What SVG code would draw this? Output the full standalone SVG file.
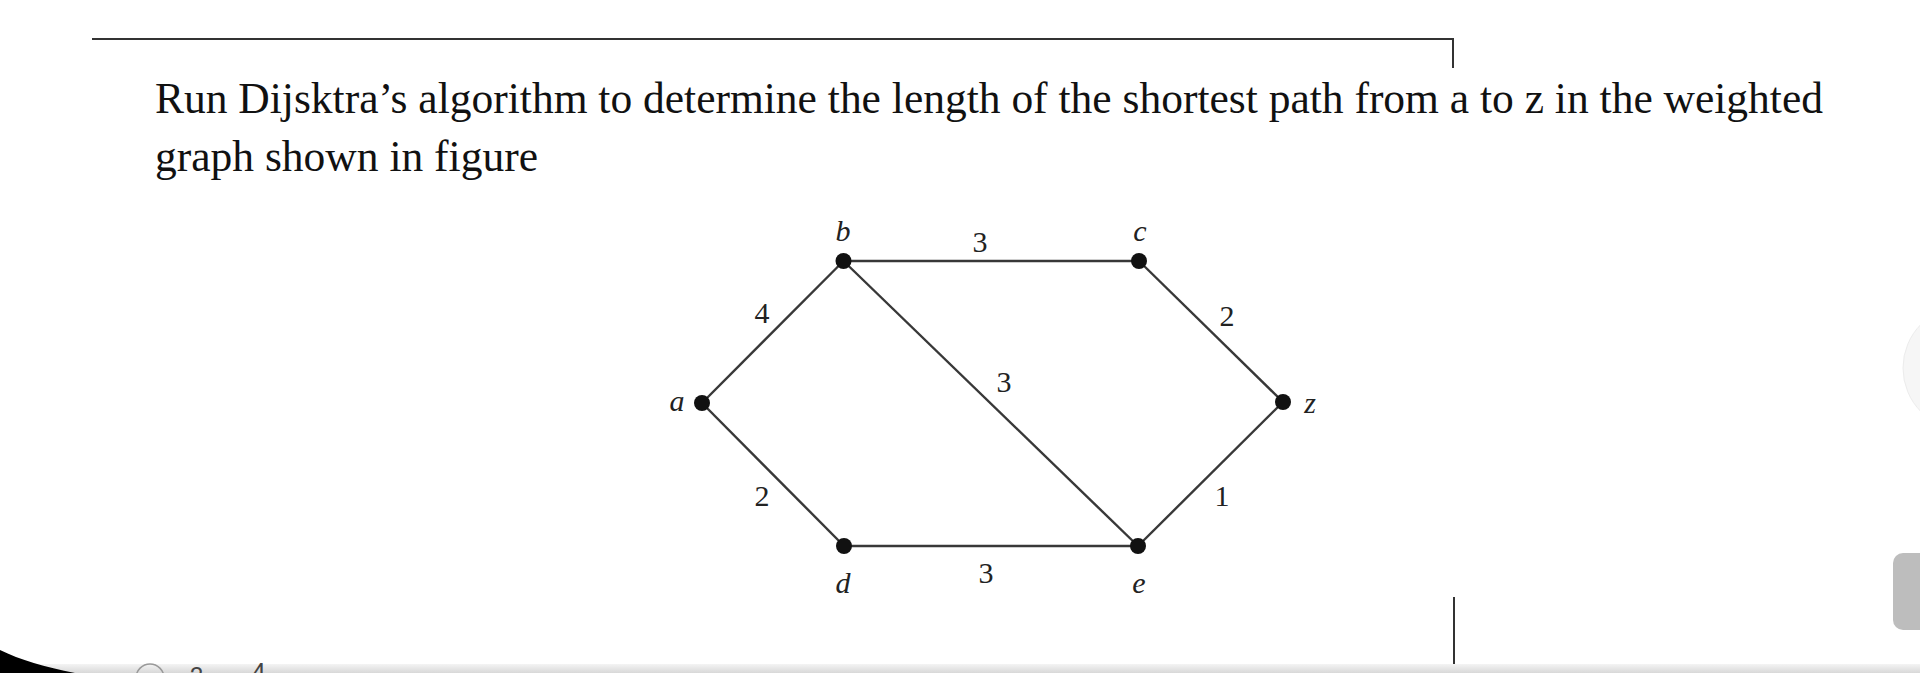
<svg xmlns="http://www.w3.org/2000/svg" width="1920" height="673" viewBox="0 0 1920 673">
  <defs>
    <linearGradient id="barGrad" x1="0" y1="0" x2="0" y2="1">
      <stop offset="0" stop-color="#f4f4f4"/>
      <stop offset="1" stop-color="#d8d8d8"/>
    </linearGradient>
  </defs>
  <style>
    .q { font-family: "Liberation Serif", "Times New Roman", serif; font-size: 43.5px; fill: #111; }
    .edge { stroke: #383838; stroke-width: 2.4; fill: none; }
    .node { fill: #111; }
    .lbl { font-family: "Liberation Serif", "Times New Roman", serif; font-size: 30px; font-style: italic; fill: #222; text-anchor: middle; }
    .w { font-family: "Liberation Serif", "Times New Roman", serif; font-size: 30px; fill: #222; text-anchor: middle; }
    .frame { stroke: #333; stroke-width: 2; fill: none; }
  </style>
  <rect x="0" y="0" width="1920" height="673" fill="#ffffff"/>

  <!-- page frame fragments -->
  <g id="frame">
    <line class="frame" x1="92" y1="39" x2="1454" y2="39"/>
    <line class="frame" x1="1453" y1="39" x2="1453" y2="68"/>
    <line class="frame" x1="1454" y1="597" x2="1454" y2="673"/>
  </g>

  <!-- question text -->
  <g id="question">
    <text class="q" x="155" y="113" textLength="1668" lengthAdjust="spacingAndGlyphs">Run Dijsktra’s algorithm to determine the length of the shortest path from a to z in the weighted</text>
    <text class="q" x="155" y="171">graph shown in figure</text>
  </g>

  <!-- connectors -->
  <g id="edges">
    <line class="edge" x1="702" y1="403" x2="843.5" y2="261"/>
    <line class="edge" x1="702" y1="403" x2="844" y2="546"/>
    <line class="edge" x1="843.5" y1="261" x2="1139" y2="261"/>
    <line class="edge" x1="843.5" y1="261" x2="1138" y2="546"/>
    <line class="edge" x1="844" y1="546" x2="1138" y2="546"/>
    <line class="edge" x1="1139" y1="261" x2="1283" y2="402"/>
    <line class="edge" x1="1138" y1="546" x2="1283" y2="402"/>
    <text class="w" x="762" y="323">4</text>
    <text class="w" x="762" y="506">2</text>
    <text class="w" x="980" y="252">3</text>
    <text class="w" x="1004" y="392">3</text>
    <text class="w" x="986" y="583">3</text>
    <text class="w" x="1227" y="326">2</text>
    <text class="w" x="1222" y="506">1</text>
  </g>

  <!-- nodes -->
  <g id="node-a">
    <circle class="node" cx="702" cy="403" r="8"/>
    <text class="lbl" x="677" y="411">a</text>
  </g>
  <g id="node-b">
    <circle class="node" cx="843.5" cy="261" r="8"/>
    <text class="lbl" x="843" y="241">b</text>
  </g>
  <g id="node-c">
    <circle class="node" cx="1139" cy="261" r="8"/>
    <text class="lbl" x="1140" y="241">c</text>
  </g>
  <g id="node-z">
    <circle class="node" cx="1283" cy="402" r="8"/>
    <text class="lbl" x="1310" y="413">z</text>
  </g>
  <g id="node-d">
    <circle class="node" cx="844" cy="546" r="8"/>
    <text class="lbl" x="843" y="593">d</text>
  </g>
  <g id="node-e">
    <circle class="node" cx="1138" cy="546" r="8"/>
    <text class="lbl" x="1139" y="593">e</text>
  </g>

  <!-- page chrome -->
  <g id="chrome">
    <circle cx="1965" cy="368" r="62" fill="#f6f6f6" stroke="#ececec" stroke-width="1"/>
    <rect x="1893" y="553" width="40" height="77" rx="10" fill="#bdbdbd"/>
    <rect x="0" y="664" width="1920" height="9" fill="url(#barGrad)"/>
    <path d="M0,650 C20,660 45,667 75,673 L0,673 Z" fill="#000"/>
    <circle cx="150" cy="678" r="14" fill="none" stroke="#999" stroke-width="1.5"/>
    <text x="190" y="684" font-family="Roboto, sans-serif" font-size="24" fill="#444">2</text>
    <text x="252" y="680" font-family="Roboto, sans-serif" font-size="24" fill="#444">4</text>
  </g>
</svg>
